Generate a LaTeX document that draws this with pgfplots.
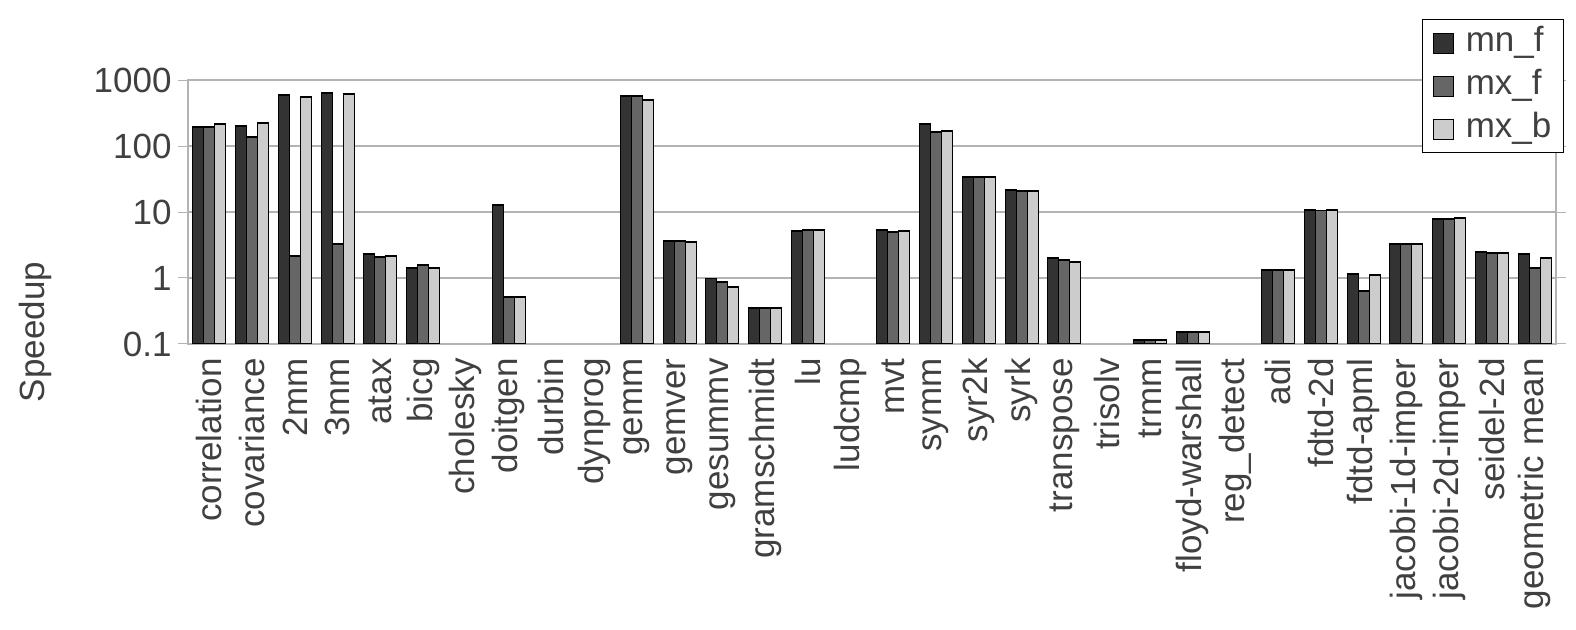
\documentclass[border=0pt]{standalone}
\usepackage{pgfplots}
\pgfplotsset{compat=1.18}
\usepackage{fontspec}
\setmainfont{Liberation Sans}
\definecolor{txt}{RGB}{64,64,64}
\definecolor{gridc}{RGB}{179,179,179}
\definecolor{mnf}{RGB}{51,51,51}
\definecolor{mxf}{RGB}{102,102,102}
\definecolor{mxb}{RGB}{204,204,204}
\newcommand\lbl{\fontsize{17.5}{20}\selectfont}

\begin{document}
\begin{tikzpicture}
\useasboundingbox (-94pt,-143pt) rectangle (694pt,172pt);
\begin{axis}[
  at={(0,0)},anchor=south west,
  scale only axis,width=684pt,height=132pt,
  ymode=log,ymin=0.1,ymax=1000,log origin=infty,
  xmin=-0.5,xmax=31.5,
  ybar=0pt,bar width=5.5pt,
  ytick={0.1,1,10,100,1000},
  yticklabels={0.1,1,10,100,1000},
  yminorticks=false,
  xtick={0,...,31},
  xticklabels={correlation,covariance,2mm,3mm,atax,bicg,cholesky,doitgen,durbin,dynprog,gemm,gemver,gesummv,gramschmidt,lu,ludcmp,mvt,symm,syr2k,syrk,transpose,trisolv,trmm,floyd-warshall,reg\_detect,adi,fdtd-2d,fdtd-apml,jacobi-1d-imper,jacobi-2d-imper,seidel-2d,geometric mean},
  xtick style={draw=none},
  minor xtick={-0.5,0.5,...,31.5},
  tick align=outside,
  major tick length=5pt,minor tick length=5pt,
  tick style={gridc,line width=0.5pt},
  minor x tick style={gridc,line width=0.5pt},
  axis line style={gridc,line width=0.6pt},
  ymajorgrids,grid style={gridc,line width=0.6pt},
  xticklabel style={rotate=90,anchor=east,font=\lbl,text=txt,inner sep=2pt},
  yticklabel style={font=\lbl,text=txt,inner sep=3pt},
  legend style={at={(axis description cs:1.00585,1.231)},anchor=north east,
    draw=black,line width=0.6pt,font=\lbl,text=txt,
    inner xsep=5pt,inner ysep=2.5pt,row sep=3pt,column sep=5pt,
    nodes={inner sep=1pt,text height=12.5pt,text depth=4pt},
    cells={anchor=west}},
  legend image code/.code={\draw[#1,draw=black,line width=0.6pt] (0pt,-5pt) rectangle (10pt,5pt);},
]
% mn_f
\addplot[fill=mnf,draw=black,line width=0.6pt] coordinates {
  (0,194)(1,201)(2,593)(3,635)(4,2.31)(5,1.42)(7,12.8)(10,572)(11,3.64)
  (12,0.977)(13,0.351)(14,5.15)(16,5.34)(17,215)(18,33.9)(19,21.5)(20,2.01)
  (22,0.115)(23,0.152)(25,1.32)(26,10.7)(27,1.15)(28,3.27)(29,7.83)(30,2.48)(31,2.31)};
% mx_f
\addplot[fill=mxf,draw=black,line width=0.6pt] coordinates {
  (0,194)(1,137)(2,2.15)(3,3.27)(4,2.08)(5,1.57)(7,0.515)(10,572)(11,3.64)
  (12,0.869)(13,0.351)(14,5.34)(16,4.98)(17,163)(18,33.9)(19,20.8)(20,1.87)
  (22,0.115)(23,0.152)(25,1.32)(26,10.4)(27,0.635)(28,3.27)(29,7.83)(30,2.39)(31,1.42)};
% mx_b
\addplot[fill=mxb,draw=black,line width=0.6pt] coordinates {
  (0,215)(1,223)(2,553)(3,614)(4,2.15)(5,1.42)(7,0.515)(10,498)(11,3.51)
  (12,0.731)(13,0.351)(14,5.34)(16,5.15)(17,169)(18,33.9)(19,20.8)(20,1.75)
  (22,0.115)(23,0.152)(25,1.32)(26,10.7)(27,1.11)(28,3.27)(29,8.11)(30,2.39)(31,2.01)};
\legend{mn\_f,mx\_f,mx\_b}
\end{axis}
\node[rotate=90,font=\lbl,text=txt] at (-76.5pt,6pt) {Speedup};
\end{tikzpicture}
\end{document}
